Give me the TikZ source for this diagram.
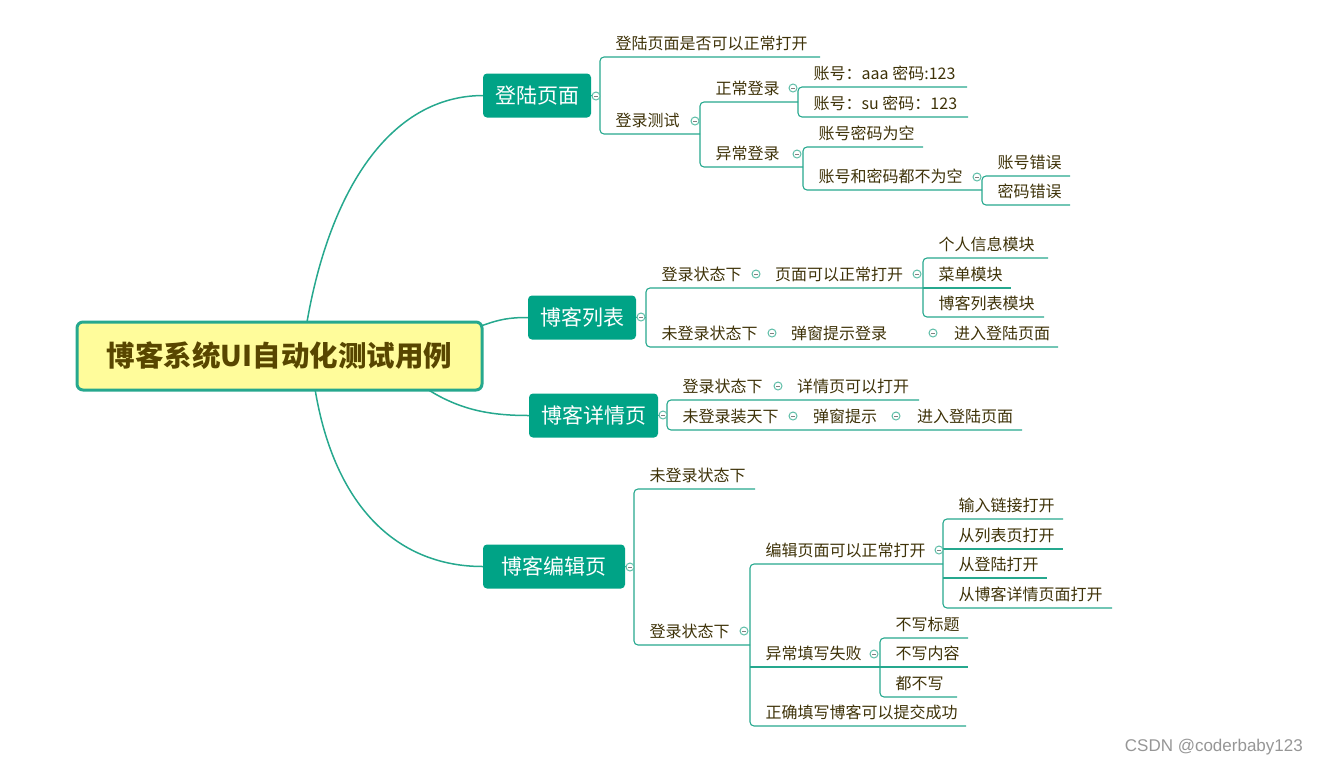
\documentclass[tikz,border=0pt]{standalone}
\usepackage{fontspec}
\setmainfont{Noto Sans CJK SC}
\newfontfamily\wmfont{Liberation Sans}
\usetikzlibrary{calc}
\definecolor{lc}{RGB}{38,168,142}
\definecolor{bf}{RGB}{0,163,134}
\definecolor{tc}{RGB}{62,50,8}
\definecolor{rf}{RGB}{255,252,155}
\definecolor{rt}{RGB}{88,70,0}
\definecolor{fc}{RGB}{95,190,168}
\definecolor{wm}{RGB}{150,150,150}
\newcommand\topic[5]{%
  \coordinate (#1l) at (#2,#3);
  \coordinate (#1r) at (#4,#3);
  \node[tp] (#1) at (#2+15.5,#3-8) {#5};}
\newcommand\chain[4]{\node[tp] (#1) at (#2,#3-8) {#4};}
\begin{document}
\begin{tikzpicture}[x=1pt,y=-1pt,
  tp/.style={font=\fontsize{16}{16}\selectfont, text=tc, inner sep=0, anchor=base west},
  brn/.style={fill=bf, rounded corners=4, text=white, font=\fontsize{21}{21}\selectfont, minimum height=44, inner sep=0},
  rootn/.style={draw=lc, line width=3, fill=rf, rounded corners=6, minimum width=405, minimum height=68, text=rt, inner sep=0, font=\bfseries\fontsize{28.5}{28.5}\selectfont},
  ln/.style={draw=lc, line width=1.1, rounded corners=4},
  cv/.style={draw=lc, line width=1.5},
  fold/.style={circle, draw=fc, fill=white, line width=1, minimum size=8, inner sep=0,
    path picture={\draw[line width=0.8, black!50] ([xshift=-2pt]path picture bounding box.center) -- ([xshift=2pt]path picture bounding box.center);}},
]
\useasboundingbox (0,0) rectangle (1318,764);

% curves from root
\coordinate (r1) at (307,322);
\coordinate (r2) at (481,326);
\coordinate (r3) at (427,389);
\coordinate (r4) at (315,389);
\node[brn, minimum width=108] (B1) at (537,95.5) {登陆页面};
\node[brn, minimum width=108] (B2) at (582,317.5) {博客列表};
\node[brn, minimum width=129] (B3) at (593.5,415.5) {博客详情页};
\node[brn, minimum width=142] (B4) at (554,566.5) {博客编辑页};
\draw[cv] (r1) .. controls (330,190) and (390,96) .. (B1.west);
\draw[cv] (r2) .. controls (500,319) and (510,317.5) .. (B2.west);
\draw[cv] (r3) .. controls (460,410) and (490,415.5) .. (B3.west);
\draw[cv] (r4) .. controls (335,510) and (400,566.5) .. (B4.west);
\node[rootn] (R) at (279.5,356) {博客系统UI自动化测试用例};

% ---------- subtree 1
\topic{s1a}{600}{57}{820}{登陆页面是否可以正常打开}
\topic{s1b}{600}{134}{700}{登录测试}
\topic{s1c}{700}{102}{798}{正常登录}
\topic{s1d}{798}{87}{967}{账号：aaa 密码:123}
\topic{s1e}{798}{117}{968}{账号：su 密码：123}
\topic{s1f}{700}{167}{803}{异常登录}
\topic{s1g}{803}{147}{923}{账号密码为空}
\topic{s1h}{803}{190}{982}{账号和密码都不为空}
\topic{s1i}{982}{176}{1070}{账号错误}
\topic{s1j}{982}{205}{1070}{密码错误}
\draw[ln] (B1.east) -- (B1.east -| s1al);
\draw[ln] (s1ar) -- (s1al) -- (s1bl) -- (s1br);
\draw[ln] (s1cr) -- (s1cl) -- (s1fl) -- (s1fr);
\draw[ln] (s1dr) -- (s1dl) -- (s1el) -- (s1er);
\draw[ln] (s1gr) -- (s1gl) -- (s1hl) -- (s1hr);
\draw[ln] (s1ir) -- (s1il) -- (s1jl) -- (s1jr);
\node[fold] (f11) at (596,96) {};
\node[fold] (f12) at (695,121) {};
\node[fold] (f13) at (793,88) {};
\node[fold] (f14) at (797,154) {};
\node[fold] (f15) at (977,177) {};

% ---------- subtree 2
\topic{s2a}{646}{288}{923}{登录状态下}
\chain{s2b}{775}{288}{页面可以正常打开}
\topic{s2c}{923}{258}{1048}{个人信息模块}
\topic{s2d}{923}{288}{1011}{菜单模块}
\topic{s2e}{923}{317}{1044}{博客列表模块}
\topic{s2f}{646}{347}{1058}{未登录状态下}
\chain{s2g}{791}{347}{弹窗提示登录}
\chain{s2h}{954}{347}{进入登陆页面}
\draw[ln] (B2.east) -- (B2.east -| s2al);
\draw[ln] (s2ar) -- (s2al) -- (s2fl) -- (s2fr);
\draw[ln] (s2cr) -- (s2cl) -- (s2el) -- (s2er);
\draw[ln] (s2dl) -- (s2dr);
\node[fold] (f21) at (641,317) {};
\node[fold] (f22) at (756,274) {};
\node[fold] (f23) at (917,274) {};
\node[fold] (f24) at (772,333) {};
\node[fold] (f25) at (933,333) {};

% ---------- subtree 3
\topic{s3a}{667}{400}{919}{登录状态下}
\chain{s3b}{797}{400}{详情页可以打开}
\topic{s3c}{667}{430}{1022}{未登录装天下}
\chain{s3d}{813}{430}{弹窗提示}
\chain{s3e}{917}{430}{进入登陆页面}
\draw[ln] (B3.east) -- (B3.east -| s3al);
\draw[ln] (s3ar) -- (s3al) -- (s3cl) -- (s3cr);
\node[fold] (f31) at (663,415) {};
\node[fold] (f32) at (778,386) {};
\node[fold] (f33) at (793,416) {};
\node[fold] (f34) at (896,416) {};

% ---------- subtree 4
\topic{s4a}{634}{489}{755}{未登录状态下}
\topic{s4b}{634}{645}{750}{登录状态下}
\topic{s4c}{750}{564}{943}{编辑页面可以正常打开}
\topic{s4d}{750}{667}{880}{异常填写失败}
\topic{s4e}{750}{726}{966}{正确填写博客可以提交成功}
\topic{s4f}{943}{519}{1063}{输入链接打开}
\topic{s4g}{943}{549}{1063}{从列表页打开}
\topic{s4h}{943}{578}{1047}{从登陆打开}
\topic{s4i}{943}{608}{1112}{从博客详情页面打开}
\topic{s4j}{880}{638}{968}{不写标题}
\topic{s4k}{880}{667}{968}{不写内容}
\topic{s4l}{880}{697}{957}{都不写}
\draw[ln] (B4.east) -- (B4.east -| s4al);
\draw[ln] (s4ar) -- (s4al) -- (s4bl) -- (s4br);
\draw[ln] (s4cr) -- (s4cl) -- (s4el) -- (s4er);
\draw[ln] (s4dl) -- (s4dr);
\draw[ln] (s4fr) -- (s4fl) -- (s4il) -- (s4ir);
\draw[ln] (s4gl) -- (s4gr);
\draw[ln] (s4hl) -- (s4hr);
\draw[ln] (s4jr) -- (s4jl) -- (s4ll) -- (s4lr);
\draw[ln] (s4kl) -- (s4kr);
\node[fold] (f41) at (630,567) {};
\node[fold] (f42) at (744,631) {};
\node[fold] (f43) at (939,550) {};
\node[fold] (f44) at (874,654) {};

\node[font=\wmfont\fontsize{17}{17}\selectfont, text=wm, anchor=base east, inner sep=0] (wmk) at (1303,751) {CSDN @coderbaby123};
\end{tikzpicture}
\end{document}
